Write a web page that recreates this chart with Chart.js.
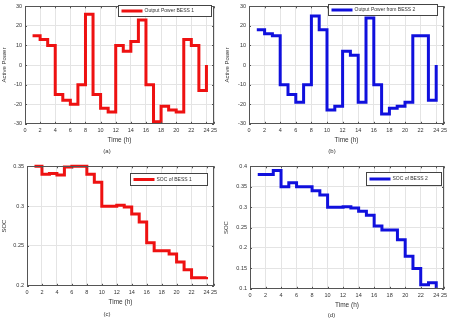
<!DOCTYPE html>
<html>
<head>
<meta charset="utf-8">
<script src="https://cdn.jsdelivr.net/npm/chart.js@4/dist/chart.umd.min.js"></script>
<style>
    html, body { margin: 0; padding: 0; background: #fff; }
    body { width: 474px; height: 323px; position: relative; overflow: hidden; }
    canvas { position: absolute; }
</style>
</head>
<body>
<canvas id="graficoA" width="237" height="160" style="left:0;top:0"></canvas>
<canvas id="graficoB" width="254" height="160" style="left:220px;top:0"></canvas>
<canvas id="graficoC" width="237" height="163" style="left:0;top:160px"></canvas>
<canvas id="graficoD" width="255" height="163" style="left:219px;top:160px"></canvas>
<script>
// Datos
const horas = [1, 2, 3, 4, 5, 6, 7, 8, 9, 10, 11, 12, 13, 14, 15, 16, 17, 18, 19, 20, 21, 22, 23, 24];
const potenciaBess1 = [15, 13, 10, -15, -18, -20, -10, 26, -15, -22, -24, 10, 7, 12, 23, -10, -29, -21, -23, -24, 13, 10, -13, 0];
const potenciaBess2 = [18, 16, 15, -10, -15, -19, -10, 25, 18, -23, -21, 7, 5, -19, 24, -10, -25, -22, -21, -19, 15, 15, -18, 0];
const socBess1 = [0.35, 0.34, 0.341, 0.339, 0.349, 0.35, 0.35, 0.34, 0.33, 0.30, 0.30, 0.301, 0.299, 0.29, 0.28, 0.254, 0.244, 0.244, 0.24, 0.23, 0.22, 0.21, 0.21, 0.211];
const socBess2 = [0.38, 0.38, 0.39, 0.35, 0.36, 0.35, 0.35, 0.34, 0.33, 0.30, 0.30, 0.301, 0.298, 0.29, 0.28, 0.254, 0.244, 0.244, 0.22, 0.18, 0.15, 0.11, 0.115, 0.10];
const ticksTiempo = [0, 2, 4, 6, 8, 10, 12, 14, 16, 18, 20, 22, 24, 25];

const colores = {
    rojo: '#ee1111',
    azul: '#1010dd',
    texto: '#333333',
    rejilla: '#e4e4e4',
    marco: '#555555'
};
const fuente = "'Liberation Sans', Arial, sans-serif";

// Marco del área, marcas de eje y cuadro de leyenda dibujados a mano
const cuadroLeyenda = {
    id: 'cuadroLeyenda',
    afterDatasetsDraw(chart, args, opts) {
        const { ctx, chartArea: a } = chart;
        const ds = chart.data.datasets[0];
        ctx.save();
        ctx.strokeStyle = colores.marco;
        ctx.lineWidth = 1;
        ctx.strokeRect(Math.round(a.left) + 0.5, Math.round(a.top) + 0.5, Math.round(a.width) - 1, Math.round(a.height) - 1);

        // pequeñas marcas hacia dentro en los ejes
        ctx.beginPath();
        chart.scales.x.ticks.forEach(t => {
            const px = Math.round(chart.scales.x.getPixelForValue(t.value)) + 0.5;
            ctx.moveTo(px, a.bottom); ctx.lineTo(px, a.bottom - 2);
            ctx.moveTo(px, a.top); ctx.lineTo(px, a.top + 2);
        });
        chart.scales.y.ticks.forEach(t => {
            const py = Math.round(chart.scales.y.getPixelForValue(t.value)) + 0.5;
            ctx.moveTo(a.left, py); ctx.lineTo(a.left + 2, py);
            ctx.moveTo(a.right, py); ctx.lineTo(a.right - 2, py);
        });
        ctx.stroke();

        const x = Math.round(a.left + opts.dx) + 0.5;
        const y = Math.round(a.top + opts.dy) + 0.5;
        ctx.fillStyle = '#fff';
        ctx.fillRect(x, y, opts.w, opts.h);
        ctx.strokeStyle = '#444';
        ctx.strokeRect(x, y, opts.w, opts.h);
        ctx.strokeStyle = ds.borderColor;
        ctx.lineWidth = 3;
        ctx.beginPath();
        ctx.moveTo(x + 3, y + opts.h / 2);
        ctx.lineTo(x + opts.linea, y + opts.h / 2);
        ctx.stroke();
        ctx.fillStyle = colores.texto;
        ctx.font = '5px ' + fuente;
        ctx.textBaseline = 'middle';
        ctx.fillText(ds.label, x + opts.linea + 2, y + opts.h / 2);
        ctx.restore();
    }
};

const crearGrafico = (id, cfg) => {
    const ctx = document.getElementById(id).getContext('2d');
    return new Chart(ctx, {
        type: 'line',
        data: {
            datasets: [{
                label: cfg.etiqueta,
                data: horas.map((h, i) => ({ x: h, y: cfg.valores[i] })),
                borderColor: cfg.color,
                borderWidth: 3,
                stepped: true,
                pointRadius: 0,
                fill: false,
                clip: false,
                borderJoinStyle: 'miter'
            }]
        },
        options: {
            responsive: false,
            animation: false,
            layout: { padding: cfg.relleno },
            plugins: {
                legend: { display: false },
                tooltip: { enabled: false },
                title: {
                    display: true,
                    position: 'bottom',
                    text: cfg.rotulo,
                    color: colores.texto,
                    font: { family: fuente, size: 6, weight: 'normal' },
                    padding: cfg.rotuloPad
                },
                cuadroLeyenda: cfg.leyenda
            },
            scales: {
                x: {
                    type: 'linear',
                    min: 0,
                    max: 25,
                    afterBuildTicks: s => { s.ticks = ticksTiempo.map(v => ({ value: v })); },
                    afterFit: s => { s.height = 22; },
                    grid: { color: colores.rejilla, drawTicks: false },
                    border: { display: false },
                    ticks: { color: colores.texto, font: { family: fuente, size: 5.5 }, padding: 3, maxRotation: 0, autoSkip: false },
                    title: { display: true, text: 'Time (h)', color: colores.texto, font: { family: fuente, size: 6.5 }, padding: { top: 0, bottom: 2 } }
                },
                y: {
                    min: cfg.yMin,
                    max: cfg.yMax,
                    afterFit: s => { s.width = cfg.anchoY; },
                    grid: { color: colores.rejilla, drawTicks: false },
                    border: { display: false },
                    ticks: {
                        stepSize: cfg.paso,
                        color: colores.texto,
                        font: { family: fuente, size: 5.5 },
                        padding: 3,
                        callback: v => String(+v.toFixed(2))
                    },
                    title: { display: true, text: cfg.tituloY, color: colores.texto, font: { family: fuente, size: 6 }, padding: { top: cfg.padTituloY, bottom: 0 } }
                }
            }
        },
        plugins: [cuadroLeyenda]
    });
};

crearGrafico('graficoA', {
    etiqueta: 'Output Power BESS 1', valores: potenciaBess1, color: colores.rojo,
    yMin: -30, yMax: 30, paso: 10, tituloY: 'Active Power', anchoY: 25, padTituloY: 1, rotulo: '(a)',
    relleno: { top: 5, right: 23, left: 0, bottom: 0 }, rotuloPad: { top: 2, bottom: 5 },
    leyenda: { dx: 93, dy: -1, w: 93, h: 11, linea: 24 }
});

crearGrafico('graficoB', {
    etiqueta: 'Output Power from BESS 2', valores: potenciaBess2, color: colores.azul,
    yMin: -30, yMax: 30, paso: 10, tituloY: 'Active Power', anchoY: 29, padTituloY: 4, rotulo: '(b)',
    relleno: { top: 5, right: 30, left: 0, bottom: 0 }, rotuloPad: { top: 2, bottom: 5 },
    leyenda: { dx: 79, dy: -2, w: 109, h: 11, linea: 24 }
});

crearGrafico('graficoC', {
    etiqueta: 'SOC of BESS 1', valores: socBess1, color: colores.rojo,
    yMin: 0.2, yMax: 0.35, paso: 0.05, tituloY: 'SOC', anchoY: 27, padTituloY: 1, rotulo: '(c)',
    relleno: { top: 2, right: 23, left: 0, bottom: 0 }, rotuloPad: { top: 3, bottom: 5 },
    leyenda: { dx: 103, dy: 7, w: 77, h: 12, linea: 24 }
});

crearGrafico('graficoD', {
    etiqueta: 'SOC of BESS 2', valores: socBess2, color: colores.azul,
    yMin: 0.1, yMax: 0.4, paso: 0.05, tituloY: 'SOC', anchoY: 31, padTituloY: 4, rotulo: '(d)',
    relleno: { top: 1, right: 30, left: 0, bottom: 0 }, rotuloPad: { top: 1, bottom: 4 },
    leyenda: { dx: 116, dy: 6, w: 75, h: 13, linea: 24 }
});
</script>
</body>
</html>
